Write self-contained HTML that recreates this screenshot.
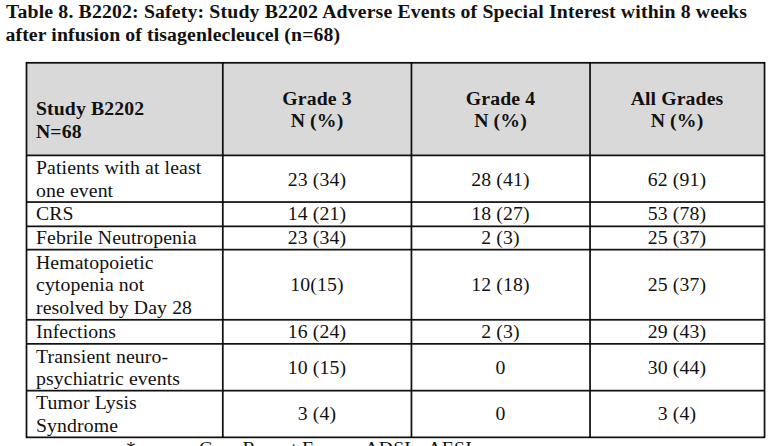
<!DOCTYPE html>
<html><head><meta charset="utf-8"><style>
html,body{margin:0;padding:0;background:#fff;width:768px;height:446px;overflow:hidden;position:relative}
.t{position:absolute;font-family:"Liberation Serif",serif;font-size:19.75px;line-height:23px;color:#111;white-space:nowrap;letter-spacing:0.11px}
</style></head><body>
<div style="position:absolute;left:27px;top:63px;width:737px;height:92px;background:#d9d9d9"></div>
<div style="position:absolute;left:26px;width:739px;top:61px;height:1px;background:rgba(0,0,0,0.070)"></div>
<div style="position:absolute;left:26px;width:739px;top:62px;height:1px;background:rgba(0,0,0,0.930)"></div>
<div style="position:absolute;left:26px;width:739px;top:63px;height:1px;background:rgba(0,0,0,0.628)"></div>
<div style="position:absolute;left:26px;width:739px;top:154px;height:1px;background:rgba(0,0,0,0.442)"></div>
<div style="position:absolute;left:26px;width:739px;top:155px;height:1px;background:rgba(0,0,0,0.930)"></div>
<div style="position:absolute;left:26px;width:739px;top:156px;height:1px;background:rgba(0,0,0,0.256)"></div>
<div style="position:absolute;left:26px;width:739px;top:201px;height:1px;background:rgba(0,0,0,0.767)"></div>
<div style="position:absolute;left:26px;width:739px;top:202px;height:1px;background:rgba(0,0,0,0.860)"></div>
<div style="position:absolute;left:26px;width:739px;top:225px;height:1px;background:rgba(0,0,0,0.488)"></div>
<div style="position:absolute;left:26px;width:739px;top:226px;height:1px;background:rgba(0,0,0,0.930)"></div>
<div style="position:absolute;left:26px;width:739px;top:227px;height:1px;background:rgba(0,0,0,0.209)"></div>
<div style="position:absolute;left:26px;width:739px;top:248px;height:1px;background:rgba(0,0,0,0.209)"></div>
<div style="position:absolute;left:26px;width:739px;top:249px;height:1px;background:rgba(0,0,0,0.930)"></div>
<div style="position:absolute;left:26px;width:739px;top:250px;height:1px;background:rgba(0,0,0,0.488)"></div>
<div style="position:absolute;left:26px;width:739px;top:318px;height:1px;background:rgba(0,0,0,0.070)"></div>
<div style="position:absolute;left:26px;width:739px;top:319px;height:1px;background:rgba(0,0,0,0.930)"></div>
<div style="position:absolute;left:26px;width:739px;top:320px;height:1px;background:rgba(0,0,0,0.628)"></div>
<div style="position:absolute;left:26px;width:739px;top:343px;height:1px;background:rgba(0,0,0,0.930)"></div>
<div style="position:absolute;left:26px;width:739px;top:344px;height:1px;background:rgba(0,0,0,0.674)"></div>
<div style="position:absolute;left:26px;width:739px;top:389px;height:1px;background:rgba(0,0,0,0.209)"></div>
<div style="position:absolute;left:26px;width:739px;top:390px;height:1px;background:rgba(0,0,0,0.930)"></div>
<div style="position:absolute;left:26px;width:739px;top:391px;height:1px;background:rgba(0,0,0,0.488)"></div>
<div style="position:absolute;left:26px;width:739px;top:436px;height:1px;background:rgba(0,0,0,0.488)"></div>
<div style="position:absolute;left:26px;width:739px;top:437px;height:1px;background:rgba(0,0,0,0.930)"></div>
<div style="position:absolute;left:26px;width:739px;top:438px;height:1px;background:rgba(0,0,0,0.209)"></div>
<div style="position:absolute;top:62px;height:376px;left:25px;width:1px;background:rgba(0,0,0,0.349)"></div>
<div style="position:absolute;top:62px;height:376px;left:26px;width:1px;background:rgba(0,0,0,0.930)"></div>
<div style="position:absolute;top:62px;height:376px;left:27px;width:1px;background:rgba(0,0,0,0.349)"></div>
<div style="position:absolute;top:62px;height:376px;left:221px;width:1px;background:rgba(0,0,0,0.070)"></div>
<div style="position:absolute;top:62px;height:376px;left:222px;width:1px;background:rgba(0,0,0,0.930)"></div>
<div style="position:absolute;top:62px;height:376px;left:223px;width:1px;background:rgba(0,0,0,0.628)"></div>
<div style="position:absolute;top:62px;height:376px;left:410px;width:1px;background:rgba(0,0,0,0.395)"></div>
<div style="position:absolute;top:62px;height:376px;left:411px;width:1px;background:rgba(0,0,0,0.930)"></div>
<div style="position:absolute;top:62px;height:376px;left:412px;width:1px;background:rgba(0,0,0,0.302)"></div>
<div style="position:absolute;top:62px;height:376px;left:589px;width:1px;background:rgba(0,0,0,0.767)"></div>
<div style="position:absolute;top:62px;height:376px;left:590px;width:1px;background:rgba(0,0,0,0.860)"></div>
<div style="position:absolute;top:62px;height:376px;left:763px;width:1px;background:rgba(0,0,0,0.302)"></div>
<div style="position:absolute;top:62px;height:376px;left:764px;width:1px;background:rgba(0,0,0,0.930)"></div>
<div style="position:absolute;top:62px;height:376px;left:765px;width:1px;background:rgba(0,0,0,0.395)"></div>
<div class="t" style="left:6px;top:0px;font-weight:bold;letter-spacing:0.16px;">Table 8. B2202: Safety: Study B2202 Adverse Events of Special Interest within 8 weeks</div>
<div class="t" style="left:5.5px;top:23px;font-weight:bold;">after infusion of tisagenlecleucel (n=68)</div>
<div class="t" style="left:36px;top:97px;font-weight:bold;">Study B2202</div>
<div class="t" style="left:36px;top:120px;font-weight:bold;">N=68</div>
<div class="t" style="left:224px;top:87px;width:186px;text-align:center;font-weight:bold;">Grade 3</div>
<div class="t" style="left:224px;top:109px;width:186px;text-align:center;font-weight:bold;">N (%)</div>
<div class="t" style="left:412px;top:87px;width:177px;text-align:center;font-weight:bold;">Grade 4</div>
<div class="t" style="left:412px;top:109px;width:177px;text-align:center;font-weight:bold;">N (%)</div>
<div class="t" style="left:591px;top:87px;width:172px;text-align:center;font-weight:bold;">All Grades</div>
<div class="t" style="left:591px;top:109px;width:172px;text-align:center;font-weight:bold;">N (%)</div>
<div class="t" style="left:36px;top:156px;">Patients with at least</div>
<div class="t" style="left:36px;top:179px;">one event</div>
<div class="t" style="left:224px;top:168px;width:186px;text-align:center;">23 (34)</div>
<div class="t" style="left:412px;top:168px;width:177px;text-align:center;">28 (41)</div>
<div class="t" style="left:591px;top:168px;width:172px;text-align:center;">62 (91)</div>
<div class="t" style="left:36px;top:202px;">CRS</div>
<div class="t" style="left:224px;top:202px;width:186px;text-align:center;">14 (21)</div>
<div class="t" style="left:412px;top:202px;width:177px;text-align:center;">18 (27)</div>
<div class="t" style="left:591px;top:202px;width:172px;text-align:center;">53 (78)</div>
<div class="t" style="left:36px;top:226px;">Febrile Neutropenia</div>
<div class="t" style="left:224px;top:226px;width:186px;text-align:center;">23 (34)</div>
<div class="t" style="left:412px;top:226px;width:177px;text-align:center;">2 (3)</div>
<div class="t" style="left:591px;top:226px;width:172px;text-align:center;">25 (37)</div>
<div class="t" style="left:36px;top:251px;">Hematopoietic</div>
<div class="t" style="left:36px;top:273px;">cytopenia not</div>
<div class="t" style="left:36px;top:296px;">resolved by Day 28</div>
<div class="t" style="left:224px;top:273px;width:186px;text-align:center;">10(15)</div>
<div class="t" style="left:412px;top:273px;width:177px;text-align:center;">12 (18)</div>
<div class="t" style="left:591px;top:273px;width:172px;text-align:center;">25 (37)</div>
<div class="t" style="left:36px;top:320px;">Infections</div>
<div class="t" style="left:224px;top:320px;width:186px;text-align:center;">16 (24)</div>
<div class="t" style="left:412px;top:320px;width:177px;text-align:center;">2 (3)</div>
<div class="t" style="left:591px;top:320px;width:172px;text-align:center;">29 (43)</div>
<div class="t" style="left:36px;top:345px;">Transient neuro-</div>
<div class="t" style="left:36px;top:367px;">psychiatric events</div>
<div class="t" style="left:224px;top:356px;width:186px;text-align:center;">10 (15)</div>
<div class="t" style="left:412px;top:356px;width:177px;text-align:center;">0</div>
<div class="t" style="left:591px;top:356px;width:172px;text-align:center;">30 (44)</div>
<div class="t" style="left:36px;top:391px;">Tumor Lysis</div>
<div class="t" style="left:36px;top:414px;">Syndrome</div>
<div class="t" style="left:224px;top:402px;width:186px;text-align:center;">3 (4)</div>
<div class="t" style="left:412px;top:402px;width:177px;text-align:center;">0</div>
<div class="t" style="left:591px;top:402px;width:172px;text-align:center;">3 (4)</div>
<div class="t" style="left:126px;top:437px;">*</div>
<div class="t" style="left:199px;top:437px;">Case</div>
<div class="t" style="left:242.5px;top:437px;">Report</div>
<div class="t" style="left:302px;top:437px;">Form:</div>
<div class="t" style="left:364.5px;top:437px;">ADSL,</div>
<div class="t" style="left:427.5px;top:437px;">AESI</div>
</body></html>
